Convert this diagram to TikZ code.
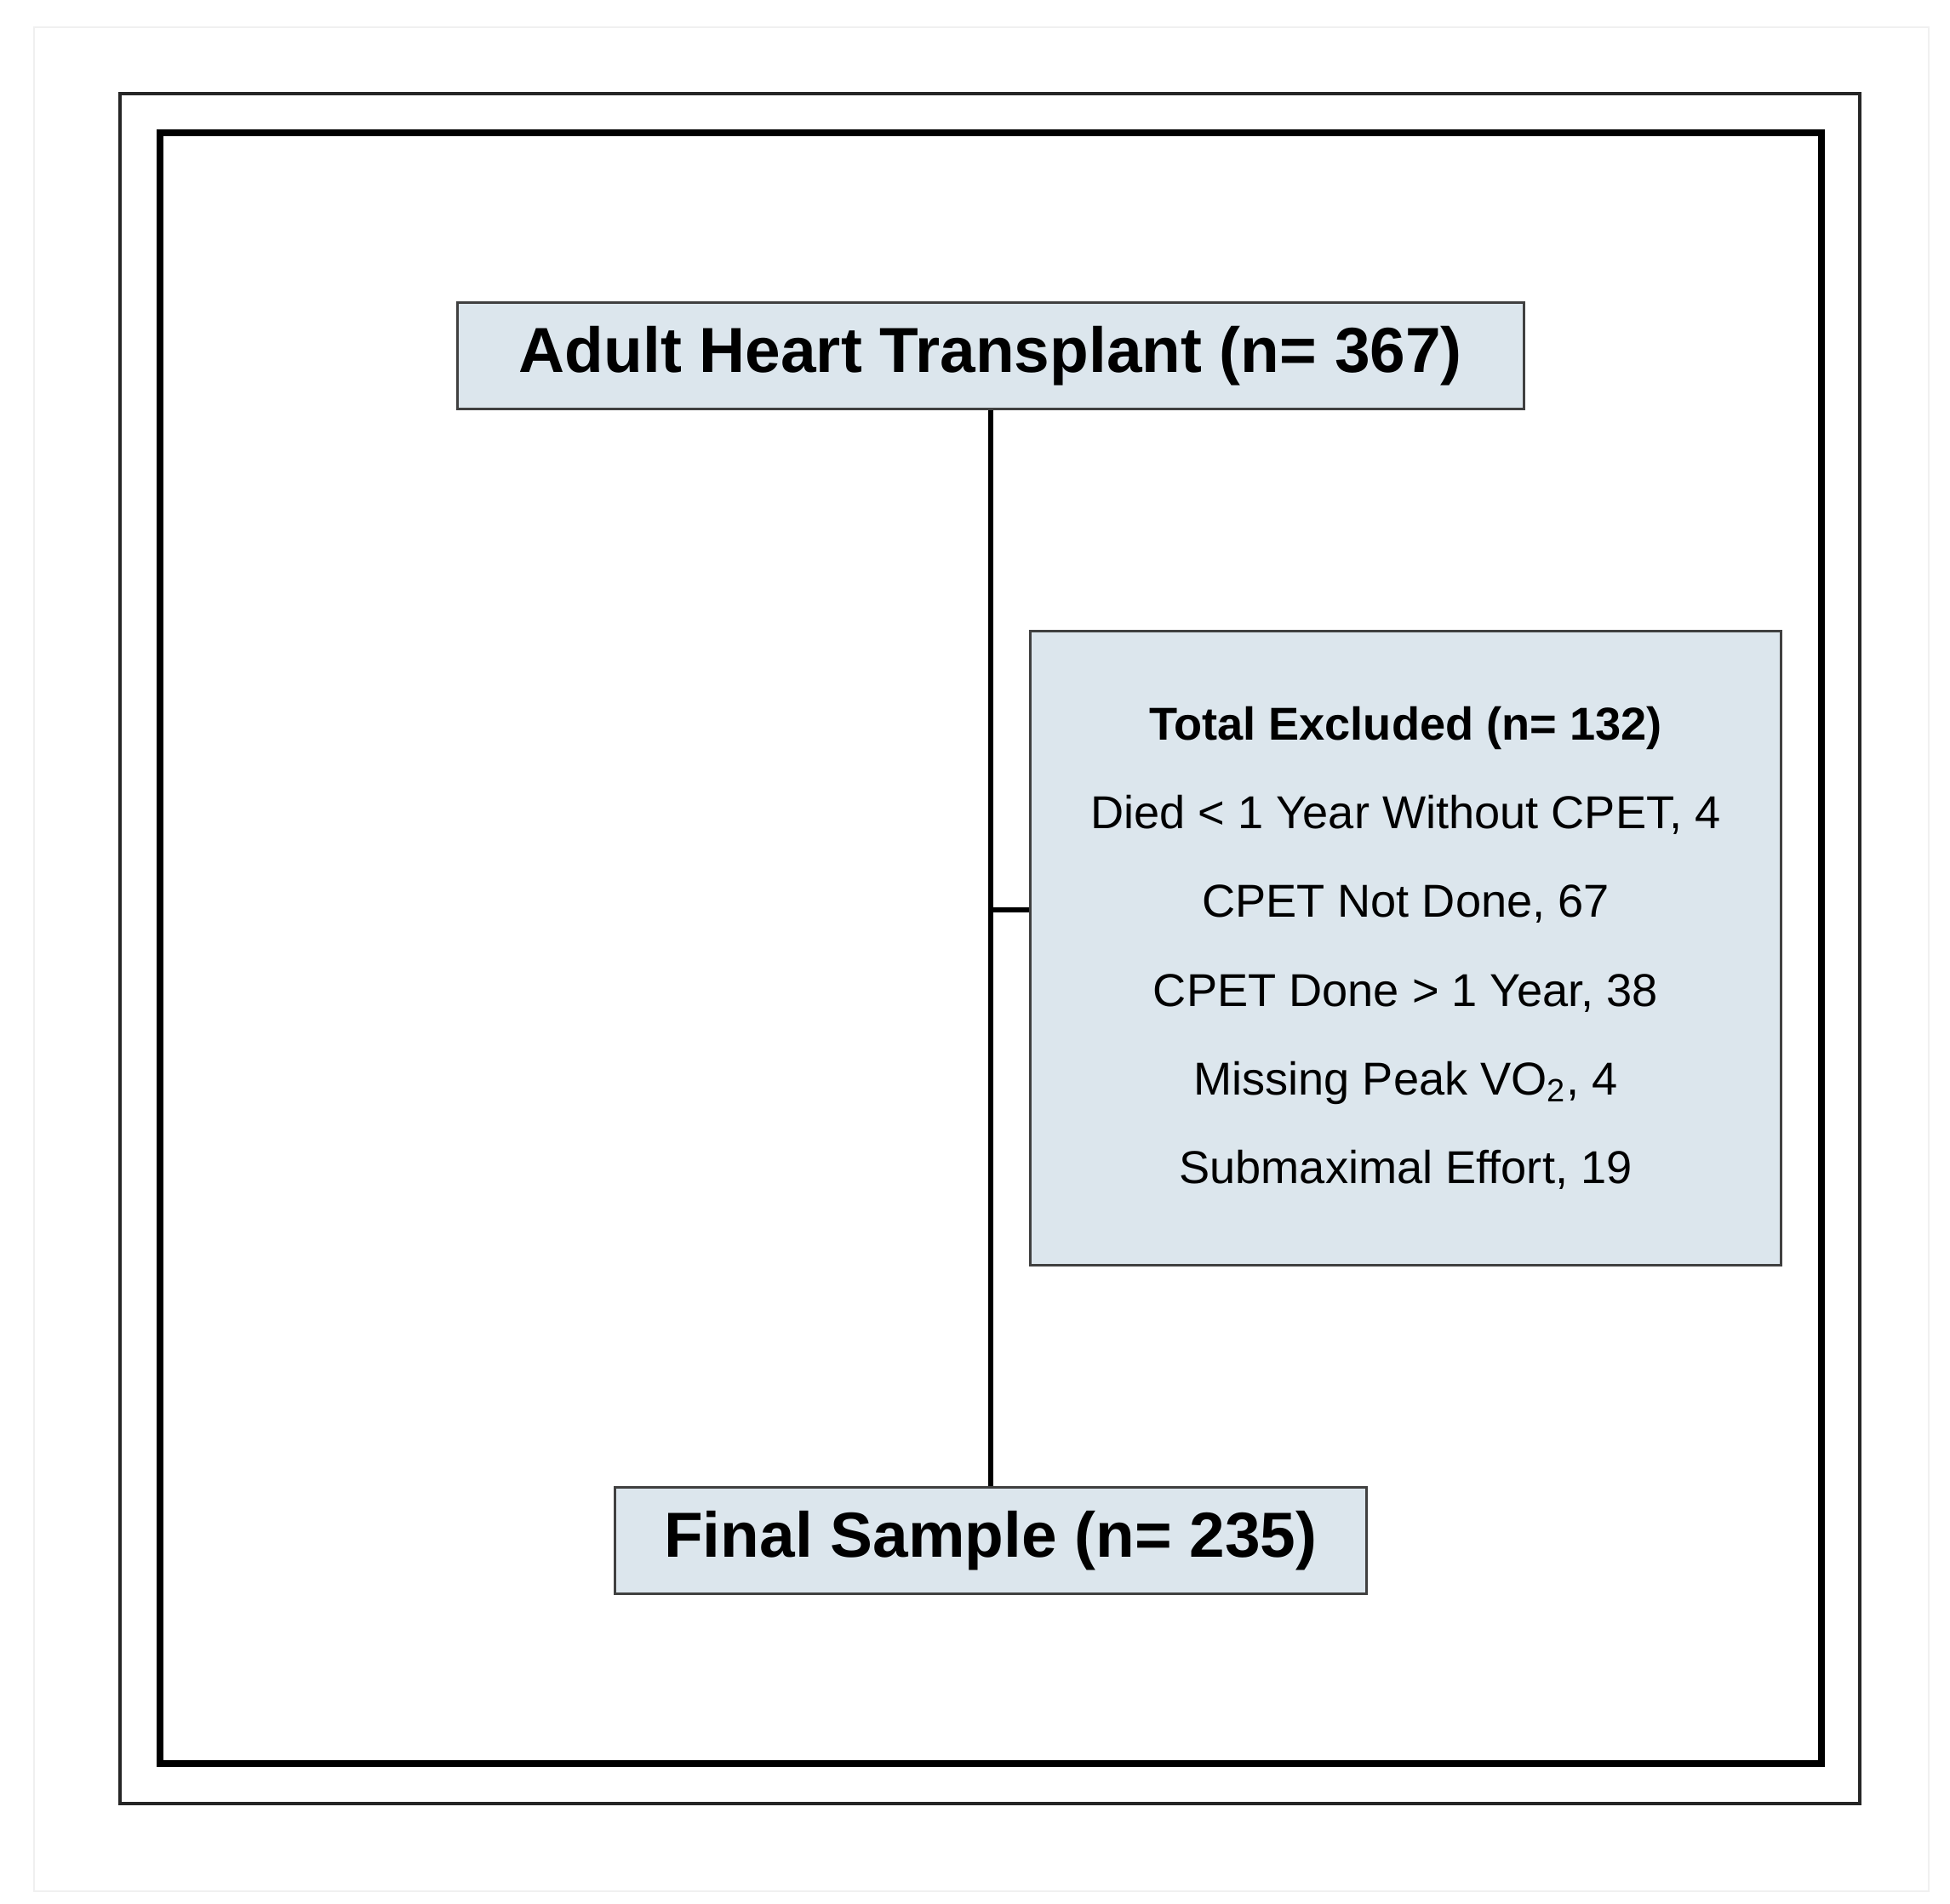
\documentclass[tikz,border=0pt]{standalone}
\usepackage{fontspec}
\setmainfont{Liberation Sans}
\definecolor{boxfill}{HTML}{DCE6ED}
\begin{document}
\begin{tikzpicture}[x=0.02cm,y=-0.02cm,
  box/.style={draw=black!75,line width=1.2pt,fill=boxfill,inner sep=0pt,align=center},
  conn/.style={line width=2.2pt,black}]
\useasboundingbox (0,0) rectangle (1560,1523);
\fill[white] (0,0) rectangle (1560,1523);
\draw[black!6,line width=0.8pt] (27,22) rectangle (1543,1513);
\draw[black!85,line width=1.5pt] (96,75) rectangle (1488,1443);
\draw[black,line width=3pt] (128,106) rectangle (1457,1411);
\node[box,minimum width=17.06cm,minimum height=1.7cm,font=\bfseries\fontsize{29}{34}\selectfont] (top) at (792.5,284.5) {Adult Heart Transplant (n= 367)};
\node[box,minimum width=12.02cm,minimum height=10.14cm,font=\fontsize{21}{40.4}\selectfont] (exc) at (1124.5,758.5)
 {\textbf{Total Excluded (n= 132)}\\Died < 1 Year Without CPET, 4\\CPET Not Done, 67\\CPET Done > 1 Year, 38\\Missing Peak VO\textsubscript{2}, 4\\Submaximal Effort, 19};
\node[box,minimum width=12.02cm,minimum height=1.7cm,font=\bfseries\fontsize{29}{34}\selectfont] (fin) at (792.5,1232.5) {Final Sample (n= 235)};
\draw[conn] (top.south) -- (fin.north);
\coordinate (j) at (793,728);
\draw[conn] (j) -- (exc.west |- j);
\end{tikzpicture}
\end{document}
